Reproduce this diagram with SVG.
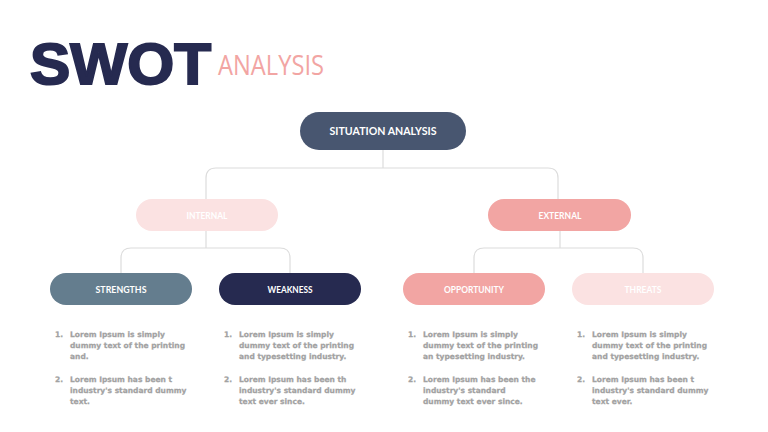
<svg xmlns="http://www.w3.org/2000/svg" width="768" height="432" viewBox="0 0 768 432">
<style>
.lbl{font-family:Lato,"Open Sans",sans-serif;font-weight:bold;font-size:9.8px;fill:#fff;text-anchor:middle}
.main{font-size:10.5px}
.body{font-family:"DejaVu Sans",Verdana,sans-serif;font-weight:bold;font-size:7.5px;fill:#a2a2a2;stroke:#a2a2a2;stroke-width:0.25}
.conn{fill:none;stroke:#dcdcdc;stroke-width:1.2}
</style>
<rect width="768" height="432" fill="#fff"/>
<g id="title">
<text x="30" y="84" font-family="Liberation Sans,Arial,sans-serif" font-weight="900" font-size="57" fill="#262a50" stroke="#262a50" stroke-width="2" textLength="181" lengthAdjust="spacingAndGlyphs">SWOT</text>
<text x="218" y="75" font-family="Open Sans,Lato,sans-serif" font-size="27" fill="#f2a5a3" textLength="106" lengthAdjust="spacingAndGlyphs">ANALYSIS</text>
</g>
<g id="connectors">
<path class="conn" d="M383 150 V168 M206 199 V178 Q206 168 216 168 H548 Q558 168 558 178 V199"/>
<path class="conn" d="M206 231 V248 M121 273 V258 Q121 248 131 248 H280 Q290 248 290 258 V273"/>
<path class="conn" d="M560 231 V248 M474 273 V258 Q474 248 484 248 H633 Q643 248 643 258 V273"/>
</g>
<g id="situation">
<rect x="300" y="112" width="166" height="38" rx="19" fill="#485670"/>
<text class="lbl main" x="383" y="134.5" textLength="107" lengthAdjust="spacingAndGlyphs">SITUATION ANALYSIS</text>
</g>
<g id="internal">
<rect x="136" y="199" width="142" height="32" rx="16" fill="#fbe2e2"/>
<text class="lbl" x="207" y="218.5" textLength="41" lengthAdjust="spacingAndGlyphs">INTERNAL</text>
</g>
<g id="external">
<rect x="488" y="199" width="143" height="32" rx="16" fill="#f2a5a3"/>
<text class="lbl" x="560" y="218.5" textLength="43" lengthAdjust="spacingAndGlyphs">EXTERNAL</text>
</g>
<g id="strengths">
<rect x="50" y="273" width="142" height="32" rx="16" fill="#647d8e"/>
<text class="lbl" x="121" y="292.5" textLength="51" lengthAdjust="spacingAndGlyphs">STRENGTHS</text>
</g>
<g id="weakness">
<rect x="219" y="273" width="142" height="32" rx="16" fill="#262a50"/>
<text class="lbl" x="290" y="292.5" textLength="45" lengthAdjust="spacingAndGlyphs">WEAKNESS</text>
</g>
<g id="opportunity">
<rect x="403" y="273" width="142" height="32" rx="16" fill="#f2a5a3"/>
<text class="lbl" x="474" y="292.5" textLength="60" lengthAdjust="spacingAndGlyphs">OPPORTUNITY</text>
</g>
<g id="threats">
<rect x="572" y="273" width="142" height="32" rx="16" fill="#fbe2e2"/>
<text class="lbl" x="643" y="292.5" textLength="37" lengthAdjust="spacingAndGlyphs">THREATS</text>
</g>
<g id="list-strengths" class="body">
<text x="55" y="337">1.</text>
<text x="70" y="337">Lorem Ipsum is simply</text>
<text x="70" y="348">dummy text of the printing</text>
<text x="70" y="359">and.</text>
<text x="55" y="382">2.</text>
<text x="70" y="382">Lorem Ipsum has been t</text>
<text x="70" y="393">industry's standard dummy</text>
<text x="70" y="404">text.</text>
</g>
<g id="list-weakness" class="body">
<text x="224" y="337">1.</text>
<text x="239" y="337">Lorem Ipsum is simply</text>
<text x="239" y="348">dummy text of the printing</text>
<text x="239" y="359">and typesetting industry.</text>
<text x="224" y="382">2.</text>
<text x="239" y="382">Lorem Ipsum has been th</text>
<text x="239" y="393">industry's standard dummy</text>
<text x="239" y="404">text ever since.</text>
</g>
<g id="list-opportunity" class="body">
<text x="408" y="337">1.</text>
<text x="423" y="337">Lorem Ipsum is simply</text>
<text x="423" y="348">dummy text of the printing</text>
<text x="423" y="359">an typesetting industry.</text>
<text x="408" y="382">2.</text>
<text x="423" y="382">Lorem Ipsum has been the</text>
<text x="423" y="393">industry's standard</text>
<text x="423" y="404">dummy text ever since.</text>
</g>
<g id="list-threats" class="body">
<text x="577" y="337">1.</text>
<text x="592" y="337">Lorem Ipsum is simply</text>
<text x="592" y="348">dummy text of the printing</text>
<text x="592" y="359">and typesetting industry.</text>
<text x="577" y="382">2.</text>
<text x="592" y="382">Lorem Ipsum has been t</text>
<text x="592" y="393">industry's standard dummy</text>
<text x="592" y="404">text ever.</text>
</g>
</svg>
